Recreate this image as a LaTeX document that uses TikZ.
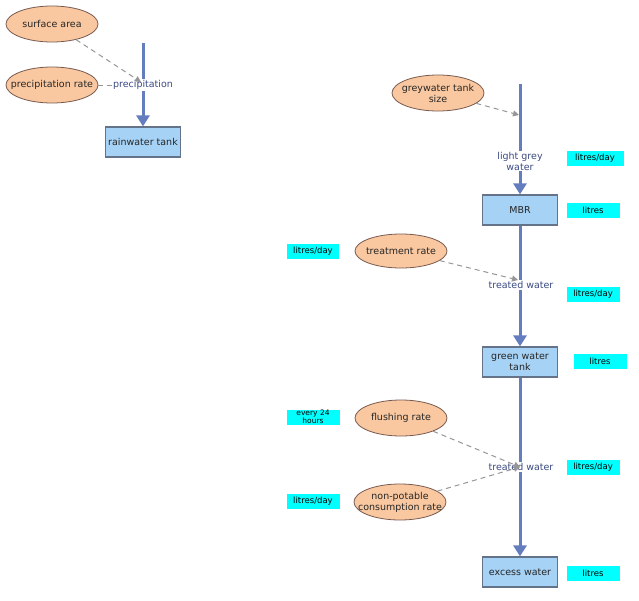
\documentclass[tikz,border=0pt]{standalone}
\usepackage{fontspec}
\setmainfont{DejaVu Sans}
\usetikzlibrary{arrows.meta,shapes.geometric}
\definecolor{peach}{RGB}{250,200,160}
\definecolor{peachborder}{RGB}{120,90,80}
\definecolor{flowblue}{RGB}{100,125,190}
\definecolor{flowtext}{RGB}{60,75,130}
\definecolor{tankfill}{RGB}{166,210,245}
\definecolor{tankborder}{RGB}{100,115,135}
\definecolor{unitcyan}{RGB}{0,255,255}
\definecolor{dashgray}{RGB}{150,150,150}
\tikzset{
  varell/.style={ellipse,draw=peachborder,fill=peach,line width=0.8pt,minimum width=92pt,minimum height=36pt,inner xsep=-12pt,inner ysep=-3pt,align=center,font=\fontsize{9.5}{11}\selectfont,text=black!85},
  stock/.style={rectangle,draw=tankborder,fill=tankfill,line width=1.2pt,minimum width=75pt,minimum height=30pt,inner sep=0pt,align=center,font=\fontsize{9.5}{11}\selectfont,text=black!85},
  unitbox/.style={rectangle,fill=unitcyan,minimum width=53pt,minimum height=15pt,inner sep=0pt,align=center,font=\fontsize{8.5}{9.5}\selectfont},
  flowlbl/.style={fill=white,inner sep=1pt,align=center,font=\fontsize{9.5}{11}\selectfont,text=flowtext},
  flow/.style={draw=flowblue,line width=3pt,-{Triangle[length=11pt,width=13pt]}},
  infl/.style={draw=dashgray,line width=1pt,dash pattern=on 5pt off 4pt,-{Triangle[length=6pt,width=6pt]}},
  infplain/.style={draw=dashgray,line width=1pt,dash pattern=on 5pt off 4pt},
}
\begin{document}
\begin{tikzpicture}[x=1pt,y=-1pt]
\useasboundingbox (0,0) rectangle (639,600);
% left part
\node[varell] (sa) at (52,24) {surface area};
\node[varell] (pr) at (52,85) {precipitation rate};
\node[stock] (rw) at (143,142) {rainwater tank};
\coordinate (ptop) at (143,43);
\draw[flow] (ptop) -- (rw.north);
\node[flowlbl] (plbl) at (143,85) {precipitation};
\coordinate (pin) at (141,82);
\draw[infl] (sa) -- (pin);
\draw[infplain] (pr.east) -- (plbl.west);

% right part
\node[varell] (gts) at (438,93) {greywater tank\\size};
\node[stock] (mbr) at (520,210) {MBR};
\node[stock] (gwt) at (520,362) {green water\\tank};
\node[stock] (ew) at (520,572) {excess water};
\coordinate (gtop) at (520,84);
\draw[flow] (gtop) -- (mbr.north);
\draw[flow] (mbr.south) -- (gwt.north);
\draw[flow] (gwt.south) -- (ew.north);
\node[flowlbl] (lgw) at (520,161) {light grey\\water};
\node[flowlbl] (tw1) at (521,285) {treated water};
\node[flowlbl] (tw2) at (521,467) {treated water};
\coordinate (gin) at (519,115);
\draw[infl] (gts) -- (gin);

\node[varell,minimum height=34pt] (tr) at (401,251) {treatment rate};
\node[varell] (fr) at (401,418) {flushing rate};
\node[varell] (np) at (400,502) {non-potable\\consumption rate};
\coordinate (tin) at (518,280);
\coordinate (fin) at (520,467);
\draw[infl] (tr) -- (tin);
\draw[infl] (fr) -- (fin);
\draw[infl] (np) -- (fin);

% units
\node[unitbox,minimum width=57pt] (u1) at (595,158) {litres/day};
\node[unitbox] (u2) at (593,210) {litres};
\node[unitbox,minimum width=52pt] (u3) at (313,251) {litres/day};
\node[unitbox] (u4) at (593,294) {litres/day};
\node[unitbox] (u5) at (600,361) {litres};
\node[unitbox,font=\fontsize{7.5}{8.5}\selectfont] (u6) at (313,417) {every 24\\hours};
\node[unitbox] (u7) at (593,467) {litres/day};
\node[unitbox] (u8) at (313,501) {litres/day};
\node[unitbox] (u9) at (593,573) {litres};
\end{tikzpicture}
\end{document}
